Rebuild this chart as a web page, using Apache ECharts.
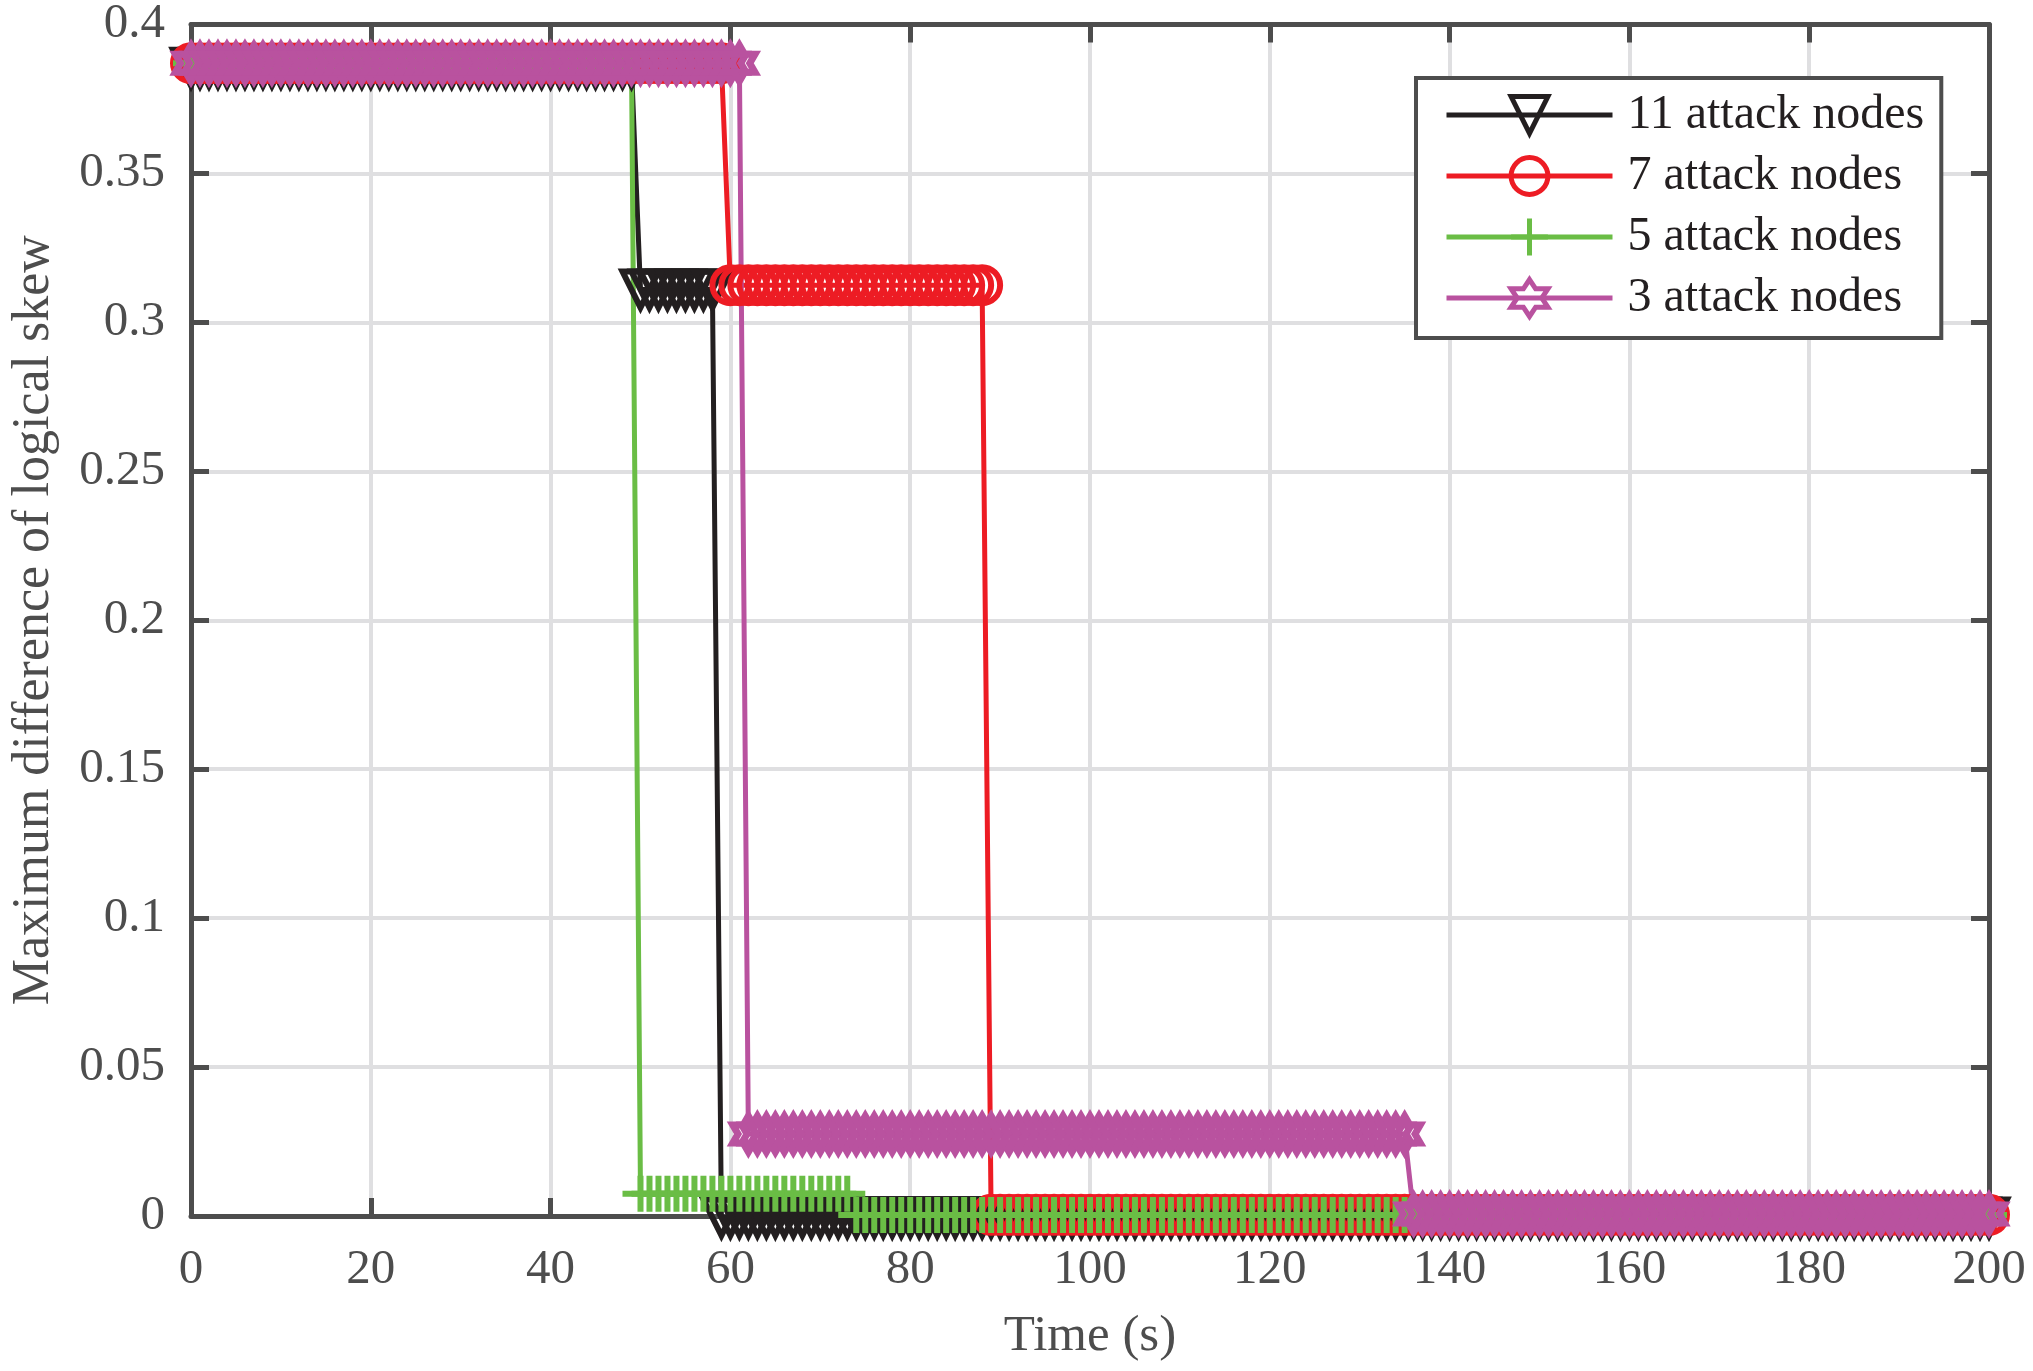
<!DOCTYPE html>
<html>
<head>
<meta charset="utf-8">
<script src="https://cdn.jsdelivr.net/npm/echarts@6/dist/echarts.min.js"></script>
<style>
html,body{margin:0;padding:0;background:#ffffff;}
#chart{width:2033px;height:1371px;}
</style>
</head>
<body>
<div id="chart"></div>
<script>
// ---------- data ----------
const seriesNames = ['11 attack nodes', '7 attack nodes', '5 attack nodes', '3 attack nodes'];

const time = [
  0,1,2,3,4,5,6,7,8,9,
  10,11,12,13,14,15,16,17,18,19,
  20,21,22,23,24,25,26,27,28,29,
  30,31,32,33,34,35,36,37,38,39,
  40,41,42,43,44,45,46,47,48,49,
  50,51,52,53,54,55,56,57,58,59,
  60,61,62,63,64,65,66,67,68,69,
  70,71,72,73,74,75,76,77,78,79,
  80,81,82,83,84,85,86,87,88,89,
  90,91,92,93,94,95,96,97,98,99,
  100,101,102,103,104,105,106,107,108,109,
  110,111,112,113,114,115,116,117,118,119,
  120,121,122,123,124,125,126,127,128,129,
  130,131,132,133,134,135,136,137,138,139,
  140,141,142,143,144,145,146,147,148,149,
  150,151,152,153,154,155,156,157,158,159,
  160,161,162,163,164,165,166,167,168,169,
  170,171,172,173,174,175,176,177,178,179,
  180,181,182,183,184,185,186,187,188,189,
  190,191,192,193,194,195,196,197,198,199,
  200
];

const nodes11 = [
  0.3855,0.3855,0.3855,0.3855,0.3855,0.3855,0.3855,0.3855,0.3855,0.3855,
  0.3855,0.3855,0.3855,0.3855,0.3855,0.3855,0.3855,0.3855,0.3855,0.3855,
  0.3855,0.3855,0.3855,0.3855,0.3855,0.3855,0.3855,0.3855,0.3855,0.3855,
  0.3855,0.3855,0.3855,0.3855,0.3855,0.3855,0.3855,0.3855,0.3855,0.3855,
  0.3855,0.3855,0.3855,0.3855,0.3855,0.3855,0.3855,0.3855,0.3855,0.3855,
  0.311,0.311,0.311,0.311,0.311,0.311,0.311,0.311,0.311,-0.0005,
  -0.0005,-0.0005,-0.0005,-0.0005,-0.0005,-0.0005,-0.0005,-0.0005,-0.0005,-0.0005,
  -0.0005,-0.0005,-0.0005,-0.0005,-0.0005,-0.0005,-0.0005,-0.0005,-0.0005,-0.0005,
  -0.0005,-0.0005,-0.0005,-0.0005,-0.0005,-0.0005,-0.0005,-0.0005,-0.0005,-0.0005,
  -0.0005,-0.0005,-0.0005,-0.0005,-0.0005,-0.0005,-0.0005,-0.0005,-0.0005,-0.0005,
  -0.0005,-0.0005,-0.0005,-0.0005,-0.0005,-0.0005,-0.0005,-0.0005,-0.0005,-0.0005,
  -0.0005,-0.0005,-0.0005,-0.0005,-0.0005,-0.0005,-0.0005,-0.0005,-0.0005,-0.0005,
  -0.0005,-0.0005,-0.0005,-0.0005,-0.0005,-0.0005,-0.0005,-0.0005,-0.0005,-0.0005,
  -0.0005,-0.0005,-0.0005,-0.0005,-0.0005,-0.0005,-0.0005,-0.0005,-0.0005,-0.0005,
  -0.0005,-0.0005,-0.0005,-0.0005,-0.0005,-0.0005,-0.0005,-0.0005,-0.0005,-0.0005,
  -0.0005,-0.0005,-0.0005,-0.0005,-0.0005,-0.0005,-0.0005,-0.0005,-0.0005,-0.0005,
  -0.0005,-0.0005,-0.0005,-0.0005,-0.0005,-0.0005,-0.0005,-0.0005,-0.0005,-0.0005,
  -0.0005,-0.0005,-0.0005,-0.0005,-0.0005,-0.0005,-0.0005,-0.0005,-0.0005,-0.0005,
  -0.0005,-0.0005,-0.0005,-0.0005,-0.0005,-0.0005,-0.0005,-0.0005,-0.0005,-0.0005,
  -0.0005,-0.0005,-0.0005,-0.0005,-0.0005,-0.0005,-0.0005,-0.0005,-0.0005,-0.0005,
  -0.0005
];

const nodes7 = [
  0.387,0.387,0.387,0.387,0.387,0.387,0.387,0.387,0.387,0.387,
  0.387,0.387,0.387,0.387,0.387,0.387,0.387,0.387,0.387,0.387,
  0.387,0.387,0.387,0.387,0.387,0.387,0.387,0.387,0.387,0.387,
  0.387,0.387,0.387,0.387,0.387,0.387,0.387,0.387,0.387,0.387,
  0.387,0.387,0.387,0.387,0.387,0.387,0.387,0.387,0.387,0.387,
  0.387,0.387,0.387,0.387,0.387,0.387,0.387,0.387,0.387,0.387,
  0.3125,0.3125,0.3125,0.3125,0.3125,0.3125,0.3125,0.3125,0.3125,0.3125,
  0.3125,0.3125,0.3125,0.3125,0.3125,0.3125,0.3125,0.3125,0.3125,0.3125,
  0.3125,0.3125,0.3125,0.3125,0.3125,0.3125,0.3125,0.3125,0.3125,0.0004,
  0.0004,0.0004,0.0004,0.0004,0.0004,0.0004,0.0004,0.0004,0.0004,0.0004,
  0.0004,0.0004,0.0004,0.0004,0.0004,0.0004,0.0004,0.0004,0.0004,0.0004,
  0.0004,0.0004,0.0004,0.0004,0.0004,0.0004,0.0004,0.0004,0.0004,0.0004,
  0.0004,0.0004,0.0004,0.0004,0.0004,0.0004,0.0004,0.0004,0.0004,0.0004,
  0.0004,0.0004,0.0004,0.0004,0.0004,0.0004,0.0004,0.0004,0.0004,0.0004,
  0.0004,0.0004,0.0004,0.0004,0.0004,0.0004,0.0004,0.0004,0.0004,0.0004,
  0.0004,0.0004,0.0004,0.0004,0.0004,0.0004,0.0004,0.0004,0.0004,0.0004,
  0.0004,0.0004,0.0004,0.0004,0.0004,0.0004,0.0004,0.0004,0.0004,0.0004,
  0.0004,0.0004,0.0004,0.0004,0.0004,0.0004,0.0004,0.0004,0.0004,0.0004,
  0.0004,0.0004,0.0004,0.0004,0.0004,0.0004,0.0004,0.0004,0.0004,0.0004,
  0.0004,0.0004,0.0004,0.0004,0.0004,0.0004,0.0004,0.0004,0.0004,0.0004,
  0.0004
];

const nodes5 = [
  0.387,0.387,0.387,0.387,0.387,0.387,0.387,0.387,0.387,0.387,
  0.387,0.387,0.387,0.387,0.387,0.387,0.387,0.387,0.387,0.387,
  0.387,0.387,0.387,0.387,0.387,0.387,0.387,0.387,0.387,0.387,
  0.387,0.387,0.387,0.387,0.387,0.387,0.387,0.387,0.387,0.387,
  0.387,0.387,0.387,0.387,0.387,0.387,0.387,0.387,0.387,0.387,
  0.0075,0.0075,0.0075,0.0075,0.0075,0.0075,0.0075,0.0075,0.0075,0.0075,
  0.0075,0.0075,0.0075,0.0075,0.0075,0.0075,0.0075,0.0075,0.0075,0.0075,
  0.0075,0.0075,0.0075,0.0075,0.0003,0.0003,0.0003,0.0003,0.0003,0.0003,
  0.0003,0.0003,0.0003,0.0003,0.0003,0.0003,0.0003,0.0003,0.0003,0.0003,
  0.0003,0.0003,0.0003,0.0003,0.0003,0.0003,0.0003,0.0003,0.0003,0.0003,
  0.0003,0.0003,0.0003,0.0003,0.0003,0.0003,0.0003,0.0003,0.0003,0.0003,
  0.0003,0.0003,0.0003,0.0003,0.0003,0.0003,0.0003,0.0003,0.0003,0.0003,
  0.0003,0.0003,0.0003,0.0003,0.0003,0.0003,0.0003,0.0003,0.0003,0.0003,
  0.0003,0.0003,0.0003,0.0003,0.0003,0.0003,0.0003,0.0003,0.0003,0.0003,
  0.0003,0.0003,0.0003,0.0003,0.0003,0.0003,0.0003,0.0003,0.0003,0.0003,
  0.0003,0.0003,0.0003,0.0003,0.0003,0.0003,0.0003,0.0003,0.0003,0.0003,
  0.0003,0.0003,0.0003,0.0003,0.0003,0.0003,0.0003,0.0003,0.0003,0.0003,
  0.0003,0.0003,0.0003,0.0003,0.0003,0.0003,0.0003,0.0003,0.0003,0.0003,
  0.0003,0.0003,0.0003,0.0003,0.0003,0.0003,0.0003,0.0003,0.0003,0.0003,
  0.0003,0.0003,0.0003,0.0003,0.0003,0.0003,0.0003,0.0003,0.0003,0.0003,
  0.0003
];

const nodes3 = [
  0.387,0.387,0.387,0.387,0.387,0.387,0.387,0.387,0.387,0.387,
  0.387,0.387,0.387,0.387,0.387,0.387,0.387,0.387,0.387,0.387,
  0.387,0.387,0.387,0.387,0.387,0.387,0.387,0.387,0.387,0.387,
  0.387,0.387,0.387,0.387,0.387,0.387,0.387,0.387,0.387,0.387,
  0.387,0.387,0.387,0.387,0.387,0.387,0.387,0.387,0.387,0.387,
  0.387,0.387,0.387,0.387,0.387,0.387,0.387,0.387,0.387,0.387,
  0.387,0.387,0.0275,0.0275,0.0275,0.0275,0.0275,0.0275,0.0275,0.0275,
  0.0275,0.0275,0.0275,0.0275,0.0275,0.0275,0.0275,0.0275,0.0275,0.0275,
  0.0275,0.0275,0.0275,0.0275,0.0275,0.0275,0.0275,0.0275,0.0275,0.0275,
  0.0275,0.0275,0.0275,0.0275,0.0275,0.0275,0.0275,0.0275,0.0275,0.0275,
  0.0275,0.0275,0.0275,0.0275,0.0275,0.0275,0.0275,0.0275,0.0275,0.0275,
  0.0275,0.0275,0.0275,0.0275,0.0275,0.0275,0.0275,0.0275,0.0275,0.0275,
  0.0275,0.0275,0.0275,0.0275,0.0275,0.0275,0.0275,0.0275,0.0275,0.0275,
  0.0275,0.0275,0.0275,0.0275,0.0275,0.0275,0.0007,0.0007,0.0007,0.0007,
  0.0007,0.0007,0.0007,0.0007,0.0007,0.0007,0.0007,0.0007,0.0007,0.0007,
  0.0007,0.0007,0.0007,0.0007,0.0007,0.0007,0.0007,0.0007,0.0007,0.0007,
  0.0007,0.0007,0.0007,0.0007,0.0007,0.0007,0.0007,0.0007,0.0007,0.0007,
  0.0007,0.0007,0.0007,0.0007,0.0007,0.0007,0.0007,0.0007,0.0007,0.0007,
  0.0007,0.0007,0.0007,0.0007,0.0007,0.0007,0.0007,0.0007,0.0007,0.0007,
  0.0007,0.0007,0.0007,0.0007,0.0007,0.0007,0.0007,0.0007,0.0007,0.0007,
  0.0007
];

// ---------- styling ----------
const AXIS_COLOR = '#4d4d4d';
const GRID_COLOR = '#dfdfe1';
const FONT = '"Liberation Serif", "Times New Roman", serif';
const COLORS = ['#231f20', '#ed1c24', '#6abd45', '#b9529f'];
const HEXAGRAM = 'path://M0,-1L0.2887,-0.5L0.866,-0.5L0.577,0L0.866,0.5L0.2887,0.5L0,1L-0.2887,0.5L-0.866,0.5L-0.577,0L-0.866,-0.5L-0.2887,-0.5Z';
const PLUS = 'path://M0,-1L0,1M-1,0L1,0';

function pairs(values) {
  return time.map((t, i) => [t, values[i]]);
}

function makeSeries(name, values, color, symbol, strokeWidth, extra) {
  return Object.assign({
    name: name,
    type: 'line',
    data: pairs(values),
    symbol: symbol,
    symbolSize: 36,
    showSymbol: true,
    showAllSymbol: true,
    clip: false,
    silent: true,
    animation: false,
    lineStyle: { color: color, width: 5 },
    itemStyle: { color: 'rgba(0,0,0,0)', borderColor: color, borderWidth: strokeWidth },
    emphasis: { disabled: true }
  }, extra || {});
}

const axisCommon = {
  axisLine: { show: true, onZero: false, lineStyle: { color: AXIS_COLOR, width: 5 } },
  axisTick: { show: true, inside: true, length: 18, lineStyle: { color: AXIS_COLOR, width: 5 } }
};

const option = {
  animation: false,
  backgroundColor: '#ffffff',
  grid: { left: 188, right: 44, top: 24, bottom: 155, containLabel: false },
  legend: {
    orient: 'vertical',
    left: 1416,
    top: 78,
    padding: [13, 17, 16, 28],
    itemGap: 13,
    itemWidth: 166,
    itemHeight: 46,
    backgroundColor: '#ffffff',
    borderColor: AXIS_COLOR,
    borderWidth: 4,
    borderRadius: 0,
    selectedMode: false,
    lineStyle: { width: 5 },
    itemStyle: { borderWidth: 5 },
    textStyle: { fontFamily: FONT, fontSize: 48, color: '#231f20', lineHeight: 46, padding: [0, 0, 0, 10] },
    data: seriesNames
  },
  xAxis: [
    Object.assign({
      type: 'value', min: 0, max: 200, interval: 20, position: 'bottom',
      name: 'Time (s)', nameLocation: 'middle', nameGap: 95,
      nameTextStyle: { fontFamily: FONT, fontSize: 51, color: AXIS_COLOR },
      axisLabel: { margin: 30, fontFamily: FONT, fontSize: 49, color: AXIS_COLOR },
      splitLine: { show: true, lineStyle: { color: GRID_COLOR, width: 4 } }
    }, axisCommon),
    Object.assign({
      type: 'value', min: 0, max: 200, interval: 20, position: 'top',
      axisLabel: { show: false }, splitLine: { show: false }
    }, axisCommon)
  ],
  yAxis: [
    Object.assign({
      type: 'value', min: 0, max: 0.4, interval: 0.05, position: 'left',
      name: 'Maximum difference of logical skew', nameLocation: 'middle', nameGap: 131,
      nameTextStyle: { fontFamily: FONT, fontSize: 52, color: AXIS_COLOR },
      axisLabel: { margin: 26, fontFamily: FONT, fontSize: 49, color: AXIS_COLOR },
      splitLine: { show: true, lineStyle: { color: GRID_COLOR, width: 4 } }
    }, axisCommon),
    Object.assign({
      type: 'value', min: 0, max: 0.4, interval: 0.05, position: 'right',
      axisLabel: { show: false }, splitLine: { show: false }
    }, axisCommon)
  ],
  series: [
    makeSeries(seriesNames[0], nodes11, COLORS[0], 'triangle', 6, { symbolRotate: 180 }),
    makeSeries(seriesNames[1], nodes7, COLORS[1], 'circle', 6),
    makeSeries(seriesNames[2], nodes5, COLORS[2], PLUS, 6),
    makeSeries(seriesNames[3], nodes3, COLORS[3], HEXAGRAM, 7, { symbolKeepAspect: true })
  ]
};

const chart = echarts.init(document.getElementById('chart'), null, { renderer: 'canvas' });
chart.setOption(option);
</script>
</body>
</html>
